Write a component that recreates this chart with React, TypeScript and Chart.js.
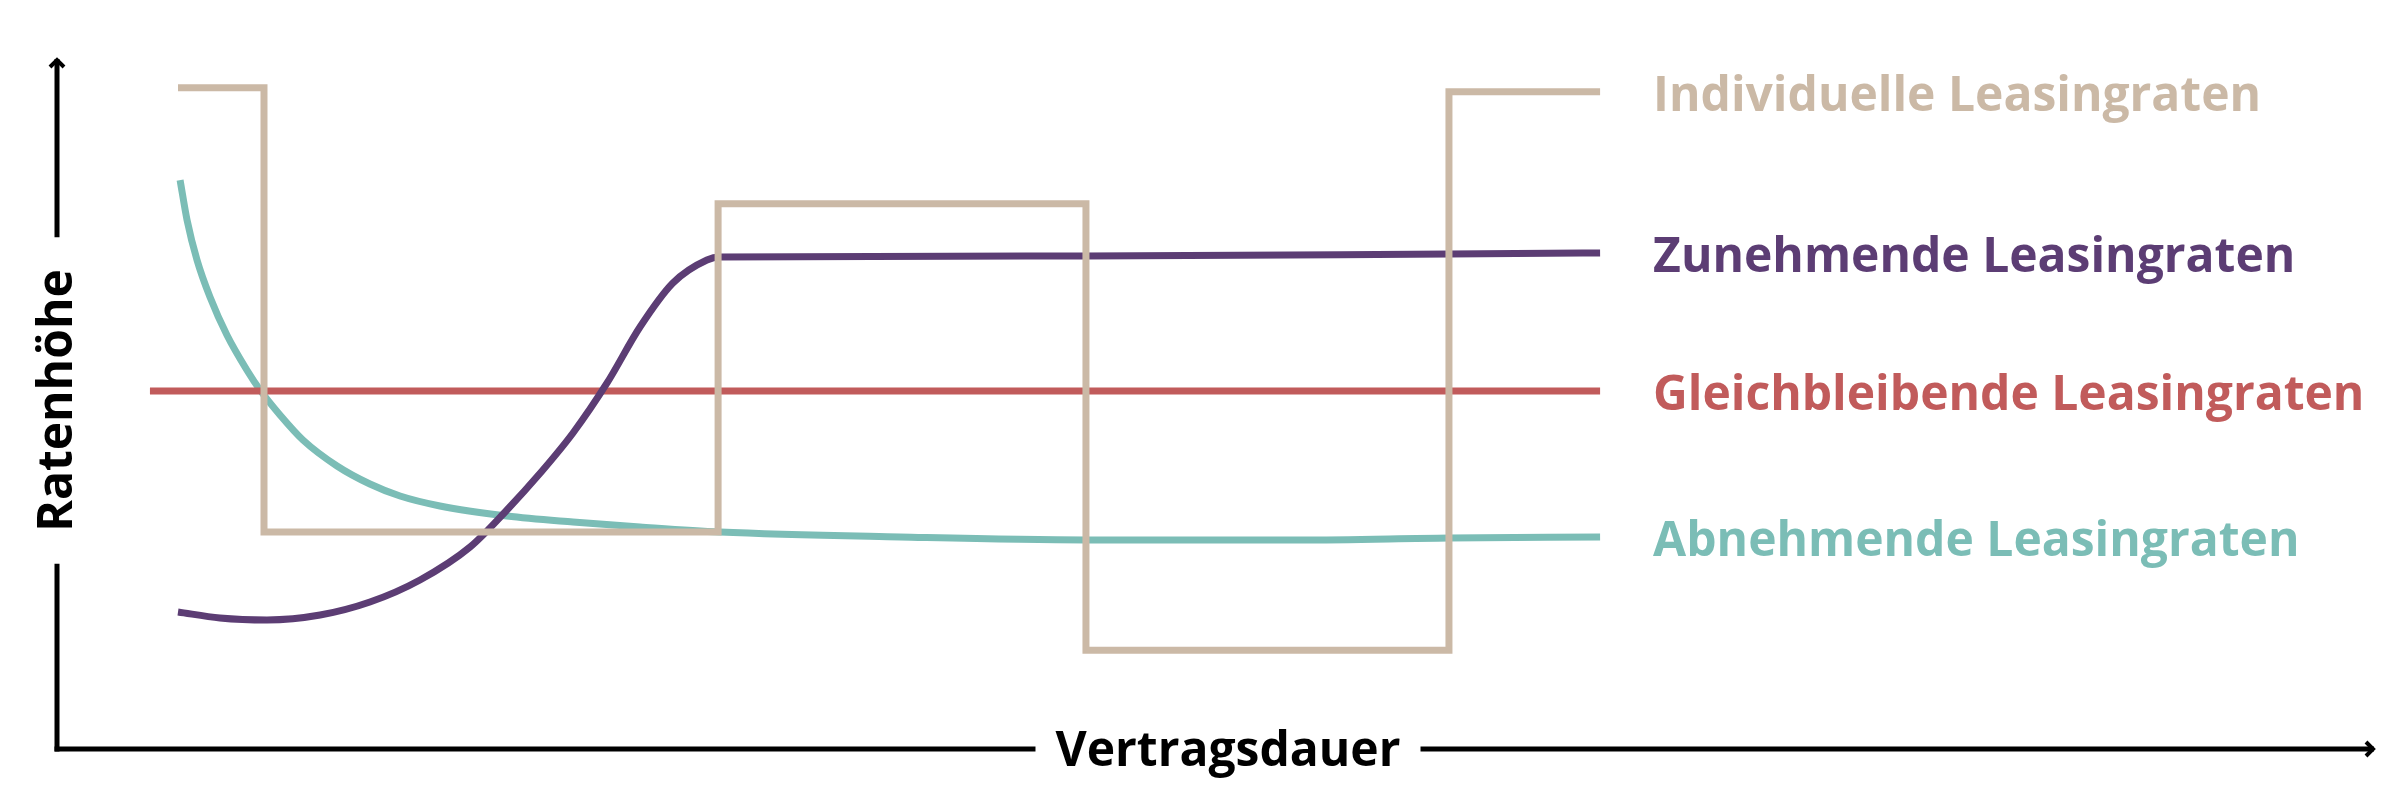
import React, { useEffect, useRef } from "react";
import { Chart, registerables } from "chart.js";

Chart.register(...registerables);

// x: Vertragsdauer (0..100), y: Ratenhöhe (0..100)
const individuellX = [5.22, 8.93, 8.93, 28.52, 28.52, 44.39, 44.39, 60.05, 60.05, 66.57];
const individuellY = [95.7, 95.7, 31.4, 31.4, 78.9, 78.9, 14.3, 14.3, 95.1, 95.1];

const zunehmendX = [5.22, 7.03, 9.06, 11.35, 13.5, 15.66, 17.82, 19.41, 20.84, 22.26, 23.73, 25.15, 26.57, 28.04, 28.6, 44.39, 60.05, 66.57];
const zunehmendY = [19.83, 18.96, 18.67, 19.39, 21.27, 24.46, 29.23, 34.59, 39.9, 45.73, 52.97, 61.07, 67.44, 70.77, 71.2, 71.35, 71.64, 71.78];

const gleichX = [4.01, 66.57];
const gleichY = [51.8, 51.8];

const abnehmendX = [5.31, 5.61, 6.04, 6.6, 7.33, 8.19, 8.76, 9.62, 10.61, 12.08, 13.5, 14.8, 16.52, 19.41, 22.26, 25.15, 28.6, 36.37, 44.39, 53.62, 60.05, 66.57];
const abnehmendY = [82.34, 76.56, 70.77, 65.41, 59.91, 54.85, 51.95, 48.34, 44.72, 40.96, 38.35, 36.61, 35.17, 33.72, 32.85, 32.13, 31.4, 30.68, 30.25, 30.25, 30.54, 30.68];

const seriesLabels = [
  "Individuelle Leasingraten",
  "Zunehmende Leasingraten",
  "Gleichbleibende Leasingraten",
  "Abnehmende Leasingraten",
];
const seriesColors = ["#CBB9A6", "#5C3D74", "#C15B5B", "#7BBDB6"];
const xAxisTitle = "Vertragsdauer";
const yAxisTitle = "Ratenhöhe";

const FONT = "'Open Sans', 'DejaVu Sans', sans-serif";

const toPoints = (xs: number[], ys: number[]) => xs.map((x, i) => ({ x, y: ys[i] }));

const decorPlugin = {
  id: "decor",
  afterDatasetsDraw(chart: any) {
    const ctx: CanvasRenderingContext2D = chart.ctx;
    const area = chart.chartArea;
    const left = area.left;
    const bottom = area.bottom;
    const top = area.top;
    const right = area.right;
    ctx.save();
    ctx.strokeStyle = "#000";
    ctx.fillStyle = "#000";
    ctx.lineWidth = 5;
    ctx.lineCap = "butt";
    ctx.lineJoin = "miter";
    ctx.font = `bold 48px ${FONT}`;

    // y axis with gap for title
    ctx.save();
    const yMid = (top + bottom) / 2 - 3;
    ctx.translate(left - 2, yMid);
    ctx.rotate(-Math.PI / 2);
    const yw = ctx.measureText(yAxisTitle).width;
    ctx.textAlign = "center";
    ctx.textBaseline = "middle";
    ctx.fillText(yAxisTitle, 0, 3);
    ctx.restore();
    const yGap = yw / 2 + 32;
    ctx.beginPath();
    ctx.moveTo(left, bottom + 2.5);
    ctx.lineTo(left, yMid + yGap);
    ctx.moveTo(left, yMid - yGap);
    ctx.lineTo(left, top + 1);
    ctx.stroke();
    // arrow head up
    ctx.lineWidth = 4;
    ctx.beginPath();
    ctx.moveTo(left - 7, top + 9);
    ctx.lineTo(left, top + 2);
    ctx.lineTo(left + 7, top + 9);
    ctx.stroke();

    // x axis with gap for title
    ctx.lineWidth = 5;
    const xMid = 1228;
    ctx.textAlign = "center";
    ctx.textBaseline = "middle";
    const xw = ctx.measureText(xAxisTitle).width;
    ctx.fillText(xAxisTitle, xMid, bottom + 3);
    const xGap = xw / 2 + 20;
    ctx.beginPath();
    ctx.moveTo(left - 2.5, bottom);
    ctx.lineTo(xMid - xGap, bottom);
    ctx.moveTo(xMid + xGap, bottom);
    ctx.lineTo(right - 1, bottom);
    ctx.stroke();
    ctx.lineWidth = 4;
    ctx.beginPath();
    ctx.moveTo(right - 9, bottom - 7);
    ctx.lineTo(right - 2, bottom);
    ctx.lineTo(right - 9, bottom + 7);
    ctx.stroke();

    // series labels at line ends
    ctx.textAlign = "left";
    ctx.textBaseline = "middle";
    chart.data.datasets.forEach((ds: any, i: number) => {
      const meta = chart.getDatasetMeta(i);
      const last = meta.data[meta.data.length - 1];
      ctx.fillStyle = ds.borderColor;
      ctx.fillText(ds.label, last.x + 53, last.y + 5);
    });
    ctx.restore();
  },
};

export default function App() {
  const ref = useRef<HTMLCanvasElement | null>(null);
  useEffect(() => {
    if (!ref.current) return;
    const lineDs = (i: number, xs: number[], ys: number[], extra: any = {}) => ({
      label: seriesLabels[i],
      data: toPoints(xs, ys),
      borderColor: seriesColors[i],
      backgroundColor: seriesColors[i],
      borderWidth: 7,
      pointRadius: 0,
      fill: false,
      clip: false,
      ...extra,
    });
    const chart = new Chart(ref.current, {
      type: "line",
      data: {
        datasets: [
          lineDs(0, individuellX, individuellY, { tension: 0, borderJoinStyle: "miter", borderWidth: 7 }),
          lineDs(1, zunehmendX, zunehmendY, { cubicInterpolationMode: "monotone" }),
          lineDs(2, gleichX, gleichY, { tension: 0 }),
          lineDs(3, abnehmendX, abnehmendY, { cubicInterpolationMode: "monotone" }),
        ],
      },
      options: {
        animation: false,
        responsive: false,
        maintainAspectRatio: false,
        devicePixelRatio: 1,
        layout: { padding: { left: 57, right: 25, top: 58, bottom: 51 } },
        plugins: { legend: { display: false }, tooltip: { enabled: false }, title: { display: false } },
        scales: {
          x: { type: "linear", min: 0, max: 100, display: false },
          y: { type: "linear", min: 0, max: 100, display: false },
        },
      },
      plugins: [decorPlugin],
    });
    return () => chart.destroy();
  }, []);
  return (
    <div style={{ position: "fixed", left: 0, top: 0, width: 2400, height: 800, background: "#fff" }}>
      <canvas ref={ref} width={2400} height={800} style={{ width: 2400, height: 800, display: "block" }} />
    </div>
  );
}
